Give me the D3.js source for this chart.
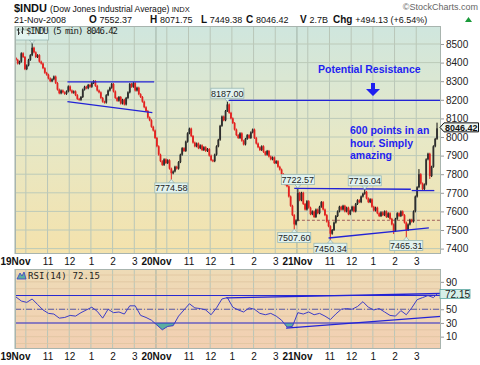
<!DOCTYPE html>
<html>
<head>
<meta charset="utf-8">
<script src="https://cdn.jsdelivr.net/npm/d3@7"></script>
<style>
body { margin: 0; background: #fff; }
svg { display: block; font-family: "Liberation Sans", Arial, sans-serif; }
</style>
</head>
<body>
<div id="container"></div>
<script>
// 5 minute closes, 19-21 Nov 2008, 78 bars a day
const closes = [
  8415, 8395, 8405, 8450, 8430, 8365, 8385, 8415, 8440, 8480,
  8455, 8430, 8440, 8405, 8395, 8370, 8345, 8335, 8315, 8300,
  8310, 8325, 8290, 8255, 8235, 8250, 8240, 8232, 8245, 8272,
  8250, 8238, 8245, 8225, 8205, 8200, 8215, 8255, 8270, 8262,
  8280, 8270, 8290, 8300, 8275, 8250, 8240, 8210, 8190, 8185,
  8225, 8250, 8265, 8285, 8245, 8210, 8195, 8215, 8180, 8200,
  8175, 8210, 8240, 8285, 8270, 8290, 8250, 8265, 8230, 8215,
  8190, 8160, 8140, 8105, 8090, 8055, 8035, 7995,
  7950, 7905, 7870, 7850, 7880, 7860, 7875, 7830, 7805, 7815,
  7840, 7830, 7865, 7905, 7940, 7925, 7975, 8020, 8045, 8005,
  7970, 7950, 7965, 7940, 7955, 7930, 7945, 7925, 7935, 7900,
  7875, 7870, 7905, 7950, 7985, 8060, 8110, 8090, 8140, 8175,
  8130, 8100, 8075, 8040, 8010, 7995, 8020, 7980, 7960, 7990,
  8010, 7995, 8025, 8040, 7995, 7965, 7945, 7930, 7950, 7920,
  7905, 7925, 7895, 7880, 7890, 7860, 7870, 7840, 7825, 7800,
  7770, 7745, 7735, 7680, 7630, 7580, 7530, 7552,
  7700, 7660, 7700, 7640, 7610, 7655, 7620, 7585, 7600, 7570,
  7610, 7590, 7625, 7650, 7610, 7580, 7545, 7520, 7480, 7500,
  7540, 7575, 7600, 7625, 7610, 7630, 7600, 7620, 7585, 7605,
  7625, 7600, 7640, 7660, 7650, 7680, 7695, 7705, 7670, 7650,
  7665, 7625, 7605, 7620, 7590, 7575, 7595, 7580, 7600, 7570,
  7590, 7560, 7530, 7495, 7560, 7590, 7575, 7600, 7580, 7540,
  7500, 7530, 7555, 7545, 7600, 7680, 7730, 7800, 7750, 7720,
  7745, 7880, 7910, 7790, 7840, 7950, 7990, 8046.42
];
const firstOpen = 8424.75;
const barsPerDay = 78;

// bars whose high / low reach past the body
const highBars = [9, 117, 156, 193, 223, 233];
const highValues = [8500, 8187.00, 7722.57, 7716.04, 7822, 8071.75];
const lowBars = [86, 154, 174, 209, 216, 229];
const lowValues = [7774.58, 7507.60, 7450.34, 7484, 7465.31, 7780];

// price call-outs
const labelBars = [86, 117, 154, 156, 174, 193, 216];
const labelValues = [7774.58, 8187.00, 7507.60, 7722.57, 7450.34, 7716.04, 7465.31];
const labelSide = ["below", "above", "below", "above", "below", "above", "below"];

// RSI(14), one reading every 3 bars
const rsiStep = 3;
const rsiValues = [
  68, 62, 60, 65, 57, 49, 44, 43, 37, 38,
  41, 40, 45, 49, 53, 47, 37, 50, 45, 46,
  43, 55, 55, 41, 38, 34, 27, 20, 25, 26,
  40, 49, 58, 52, 51, 49, 42, 52, 65, 67,
  53, 49, 46, 52, 50, 44, 42, 44, 40, 34,
  24, 25, 45, 43, 46, 42, 44, 40, 35, 43,
  50, 51, 50, 54, 61, 53, 49, 51, 46, 41,
  40, 48, 42, 52, 64, 67, 70, 67, 72.15
];

const dayLabels = ["19Nov", "20Nov", "21Nov"];
const hourBars = [0, 6, 18, 30, 42, 54, 66];
const hourLabels = [null, "", "11", "12", "1", "2", "3"];
const priceTicks = [7400, 7500, 7600, 7700, 7800, 7900, 8000, 8100, 8200, 8300, 8400, 8500];
const rsiTicks = [10, 30, 50, 70, 90];
const rsiGrid = [0, 10, 20, 30, 40, 50, 60, 70, 80, 90, 100];

// drawn trend lines: [bar, price, bar, price]
const priceLines = [
  [29, 8296, 77, 8296],
  [29, 8190, 76, 8131],
  [117, 8197, 236, 8197],
  [154.5, 7724, 219, 7719],
  [219.5, 7712, 232, 7712],
  [173.5, 7457, 229, 7511]
];
const prevClose = 7552.29;
const rsiLines = [
  [117, 66.5, 236, 73],
  [150, 22.5, 237, 40]
];

const w = 480, h = 365;
const left = 15, right = 441;
const mainTop = 26, mainBottom = 254;
const rsiTop = 269, rsiBottom = 349;

const svg = d3.select("#container").append("svg")
  .attr("width", w).attr("height", h);

const defs = svg.append("defs");
const g1 = defs.append("linearGradient").attr("id", "mainBg").attr("x1", 0).attr("x2", 0).attr("y1", 0).attr("y2", 1);
g1.append("stop").attr("offset", "0%").attr("stop-color", "#cfe6de");
g1.append("stop").attr("offset", "50%").attr("stop-color", "#e7e8c6");
g1.append("stop").attr("offset", "100%").attr("stop-color", "#f4e2ac");
const g2 = defs.append("linearGradient").attr("id", "rsiBg").attr("x1", 0).attr("x2", 0).attr("y1", 0).attr("y2", 1);
g2.append("stop").attr("offset", "0%").attr("stop-color", "#eedbb6");
g2.append("stop").attr("offset", "100%").attr("stop-color", "#f2cfb2");
defs.append("clipPath").attr("id", "mainClip").append("rect")
  .attr("x", left).attr("y", mainTop).attr("width", right - left).attr("height", mainBottom - mainTop);
defs.append("clipPath").attr("id", "rsiClip").append("rect")
  .attr("x", left).attr("y", rsiTop).attr("width", right - left).attr("height", rsiBottom - rsiTop);

const x = d3.scaleLinear().domain([0, 235.7]).range([left, right]);
const yP = d3.scaleLinear().domain([7400, 8500]).range([248.6, 44]);
const yR = d3.scaleLinear().domain([0, 100]).range([343.5, 275]);

// panels
svg.append("rect").attr("x", left).attr("y", mainTop).attr("width", right - left).attr("height", mainBottom - mainTop)
  .attr("fill", "url(#mainBg)");
svg.append("rect").attr("x", left).attr("y", rsiTop).attr("width", right - left).attr("height", rsiBottom - rsiTop)
  .attr("fill", "url(#rsiBg)");

// grid
const vTicks = [];
dayLabels.forEach((d, di) => hourBars.forEach((b, hi) => vTicks.push({bar: di * barsPerDay + b, day: hi === 0 ? d : null, label: hourLabels[hi]})));

[[mainTop, mainBottom], [rsiTop, rsiBottom]].forEach(([t, b]) => {
  svg.append("g").selectAll("line").data(vTicks).join("line")
    .attr("x1", d => x(d.bar)).attr("x2", d => x(d.bar))
    .attr("y1", t).attr("y2", b)
    .attr("stroke", d => d.day ? "#9fb0a4" : "#b9c6b8").attr("stroke-width", 1);
});
svg.append("g").selectAll("line").data(priceTicks).join("line")
  .attr("x1", left).attr("x2", right).attr("y1", d => yP(d)).attr("y2", d => yP(d))
  .attr("stroke", "#bccab9").attr("stroke-width", 1);
svg.append("g").selectAll("line").data(rsiGrid).join("line")
  .attr("x1", left).attr("x2", right).attr("y1", d => yR(d)).attr("y2", d => yR(d))
  .attr("stroke", "#e0c4a0").attr("stroke-width", 0.8);

// candles
const highAt = new Map(highBars.map((b, k) => [b, highValues[k]]));
const lowAt = new Map(lowBars.map((b, k) => [b, lowValues[k]]));
const bars = closes.map((c, i) => {
  const o = i === 0 ? firstOpen : closes[i - 1];
  return {
    i, o, c,
    hi: highAt.has(i) ? highAt.get(i) : Math.max(o, c),
    lo: lowAt.has(i) ? lowAt.get(i) : Math.min(o, c),
    up: c >= o
  };
});

const main = svg.append("g").attr("clip-path", "url(#mainClip)");

// previous close
main.append("line")
  .attr("x1", x(156)).attr("x2", right).attr("y1", yP(prevClose)).attr("y2", yP(prevClose))
  .attr("stroke", "#a0605c").attr("stroke-width", 1).attr("stroke-dasharray", "3,2");

main.selectAll("line.wick").data(bars).join("line").attr("class", "wick")
  .attr("x1", d => x(d.i + 0.5)).attr("x2", d => x(d.i + 0.5))
  .attr("y1", d => yP(d.hi) - 1).attr("y2", d => yP(d.lo) + 1)
  .attr("stroke", d => d.up ? "#111" : "#e3211f").attr("stroke-width", 1);
main.selectAll("rect.body").data(bars).join("rect").attr("class", "body")
  .attr("x", d => x(d.i + 0.5) - 0.9).attr("width", 1.8)
  .attr("y", d => yP(Math.max(d.o, d.c)))
  .attr("height", d => Math.max(1, Math.abs(yP(d.o) - yP(d.c))))
  .attr("fill", d => d.up ? "#2e2e2e" : "#e3211f");

// trend lines
main.selectAll("line.trend").data(priceLines).join("line").attr("class", "trend")
  .attr("x1", d => x(d[0])).attr("y1", d => yP(d[1]))
  .attr("x2", d => x(d[2])).attr("y2", d => yP(d[3]))
  .attr("stroke", "#2323d6").attr("stroke-width", 1.3);

// call-outs
function callout(g, cx, yEdge, side, text, showText) {
  const bw = 33, bh = 10;
  const by = side === "above" ? yEdge - 4 - bh : yEdge + 4;
  const tip = side === "above" ? yEdge - 0.5 : yEdge + 0.5;
  const base = side === "above" ? by + bh : by;
  g.append("path")
    .attr("d", `M${cx - 3},${base} L${cx},${tip} L${cx + 3},${base} Z`)
    .attr("fill", "#dff2ee").attr("stroke", "#9ab8b4").attr("stroke-width", 0.8);
  g.append("rect").attr("x", cx - bw / 2).attr("y", by).attr("width", bw).attr("height", bh)
    .attr("fill", "#e2f3ef").attr("stroke", "#9ab8b4").attr("stroke-width", 0.8);
  if (showText) {
    g.append("text").attr("x", cx).attr("y", by + 8.3).attr("text-anchor", "middle")
      .attr("font-size", 9).attr("fill", "#222").text(text);
  }
}
const labels = svg.append("g");
// the session high call-out sits under the legend
callout(labels, x(9.5), yP(highValues[0]), "above", "", false);
labelBars.forEach((b, k) => {
  callout(labels, x(b + 0.5), yP(labelValues[k]), labelSide[k], d3.format(".2f")(labelValues[k]), true);
});

// annotations
svg.append("text").attr("x", 318).attr("y", 73).attr("font-size", 10.5).attr("font-weight", "bold")
  .attr("fill", "#1f1ff0").text("Potential Resistance");
svg.append("path").attr("d", "M371,83 L375,83 L375,89 L380,89 L373,96 L366,89 L371,89 Z").attr("fill", "#1f1ff0");
["600 points in an", "hour. Simply", "amazing"].forEach((t, k) => {
  svg.append("text").attr("x", 350).attr("y", 134 + k * 12.5).attr("font-size", 10.5).attr("font-weight", "bold")
    .attr("fill", "#1f1ff0").text(t);
});

// RSI
const rsiPts = rsiValues.map((v, k) => ({bar: Math.min(k * rsiStep, closes.length - 1), v}));
const rsiG = svg.append("g").attr("clip-path", "url(#rsiClip)");
defs.append("clipPath").attr("id", "below30").append("rect")
  .attr("x", left).attr("y", yR(30)).attr("width", right - left).attr("height", rsiBottom - yR(30));
defs.append("clipPath").attr("id", "above70").append("rect")
  .attr("x", left).attr("y", rsiTop).attr("width", right - left).attr("height", yR(70) - rsiTop);
rsiG.append("path").datum(rsiPts).attr("clip-path", "url(#below30)")
  .attr("d", d3.area().x(d => x(d.bar + 0.5)).y0(yR(30)).y1(d => yR(d.v)))
  .attr("fill", "#5cae9f");
rsiG.append("path").datum(rsiPts).attr("clip-path", "url(#above70)")
  .attr("d", d3.area().x(d => x(d.bar + 0.5)).y0(yR(70)).y1(d => yR(d.v)))
  .attr("fill", "#5cae9f");
[30, 70].forEach(v => rsiG.append("line").attr("x1", left).attr("x2", right).attr("y1", yR(v)).attr("y2", yR(v))
  .attr("stroke", "#2a2ad0").attr("stroke-width", 1.1));
rsiG.append("line").attr("x1", left).attr("x2", right).attr("y1", yR(50)).attr("y2", yR(50))
  .attr("stroke", "#5a5aa8").attr("stroke-width", 1).attr("stroke-dasharray", "6,2,1,2");
rsiG.append("path").datum(rsiPts)
  .attr("d", d3.line().x(d => x(d.bar + 0.5)).y(d => yR(d.v)))
  .attr("fill", "none").attr("stroke", "#3c3cc8").attr("stroke-width", 1);
rsiG.selectAll("line.trend").data(rsiLines).join("line").attr("class", "trend")
  .attr("x1", d => x(d[0])).attr("y1", d => yR(d[1]))
  .attr("x2", d => x(d[2])).attr("y2", d => yR(d[3]))
  .attr("stroke", "#2323d6").attr("stroke-width", 1.3);

// panel frames
[[mainTop, mainBottom], [rsiTop, rsiBottom]].forEach(([t, b]) => {
  svg.append("rect").attr("x", left + 0.5).attr("y", t + 0.5).attr("width", right - left - 1).attr("height", b - t - 1)
    .attr("fill", "none").attr("stroke", "#a8b4ae");
});

// right axes (the 70 label sits under the RSI value box)
const pAxis = svg.append("g").attr("transform", `translate(${right},0)`)
  .call(d3.axisRight(yP).tickValues(priceTicks).tickSize(3).tickPadding(2).tickFormat(d3.format("d")));
const rAxis = svg.append("g").attr("transform", `translate(${right},0)`)
  .call(d3.axisRight(yR).tickValues(rsiTicks).tickSize(3).tickPadding(2).tickFormat(v => v === 70 ? "" : v));
[pAxis, rAxis].forEach(a => {
  a.select(".domain").remove();
  a.selectAll("text").attr("font-size", 10).attr("font-family", "Liberation Sans, Arial, sans-serif").attr("fill", "#222");
  a.selectAll("line").attr("stroke", "#999");
});

// time axes
[mainBottom, rsiBottom].forEach(yb => {
  const ax = svg.append("g").attr("transform", `translate(0,${yb})`)
    .call(d3.axisBottom(x).tickValues(vTicks.map(d => d.bar)).tickSize(0).tickPadding(4)
      .tickFormat((v, k) => vTicks[k].day || vTicks[k].label));
  ax.select(".domain").remove();
  ax.selectAll("text").attr("font-size", 10).attr("font-family", "Liberation Sans, Arial, sans-serif").attr("fill", "#111")
    .attr("font-weight", (v, k) => vTicks[k].day ? "bold" : "normal");
});

// last value boxes
const lastClose = closes[closes.length - 1];
const yl = yP(lastClose) - 1;
svg.append("path").attr("d", `M${right - 1},${yl} L${right + 3},${yl - 4.5} L${w - 1.5},${yl - 4.5} L${w - 1.5},${yl + 4.5} L${right + 3},${yl + 4.5} Z`)
  .attr("fill", "#eef6f2").attr("stroke", "#111").attr("stroke-width", 1);
svg.append("text").attr("x", right + 4).attr("y", yl + 3.3).attr("font-size", 9).attr("font-weight", "bold")
  .attr("fill", "#111").text(d3.format(".2f")(lastClose));
const lastRsi = rsiValues[rsiValues.length - 1];
const yr = yR(lastRsi);
svg.append("rect").attr("x", right - 1).attr("y", yr - 4.5).attr("width", 30).attr("height", 9)
  .attr("fill", "#d6efe9").attr("stroke", "#5aa6a0").attr("stroke-width", 0.8);
svg.append("text").attr("x", right + 4).attr("y", yr + 3.5).attr("font-size", 10)
  .attr("fill", "#222").text(d3.format(".2f")(lastRsi));

// legends
const lg = svg.append("g");
lg.append("path").attr("d", "M18.5,28 V35 M17,30 H18.5 M18.5,33 H20 M22.5,27 V34 M21,32 H22.5 M22.5,29 H24")
  .attr("stroke", "#333").attr("stroke-width", 1).attr("fill", "none");
lg.append("text").attr("x", 26).attr("y", 34).attr("font-family", "DejaVu Sans Mono, monospace").attr("font-size", 9)
  .attr("fill", "#222").attr("textLength", 92).attr("lengthAdjust", "spacing")
  .text("$INDU (5 min) " + d3.format(".2f")(lastClose));
lg.append("path").attr("d", "M17,279 L20,273 L22,276 L24,272 L26,279 Z").attr("fill", "#5cae9f").attr("stroke", "#3c3cc8").attr("stroke-width", 0.8);
lg.append("text").attr("x", 28).attr("y", 279).attr("font-family", "DejaVu Sans Mono, monospace").attr("font-size", 9)
  .attr("fill", "#222").attr("textLength", 72).attr("lengthAdjust", "spacing").text("RSI(14) " + d3.format(".2f")(lastRsi));

// header
const hd = svg.append("text").attr("x", 14).attr("y", 12).attr("fill", "#111");
hd.append("tspan").attr("font-weight", "bold").attr("font-size", 11).text("$INDU ");
hd.append("tspan").attr("font-size", 8.6).text("(Dow Jones Industrial Average) ");
hd.append("tspan").attr("font-size", 7.5).text("INDX");
svg.append("text").attr("x", 478).attr("y", 10).attr("text-anchor", "end").attr("font-size", 9)
  .attr("fill", "#666").text("©StockCharts.com");
svg.append("text").attr("x", 14).attr("y", 23).attr("font-size", 9).attr("fill", "#111").text("21-Nov-2008");
const ohlc = [["O", "7552.37", 89], ["H", "8071.75", 150], ["L", "7449.38", 201], ["C", "8046.42", 246],
              ["V", "2.7B", 300], ["Chg", "+494.13 (+6.54%)", 333]];
ohlc.forEach(([k, v, px]) => {
  const t = svg.append("text").attr("x", px).attr("y", 23).attr("fill", "#111");
  t.append("tspan").attr("font-weight", "bold").attr("font-size", 10).text(k + " ");
  t.append("tspan").attr("font-size", 9).text(v);
});
svg.append("path").attr("d", "M465,22 L468.5,17 L472,22 Z").attr("fill", "#1a9a3a");
</script>
</body>
</html>
